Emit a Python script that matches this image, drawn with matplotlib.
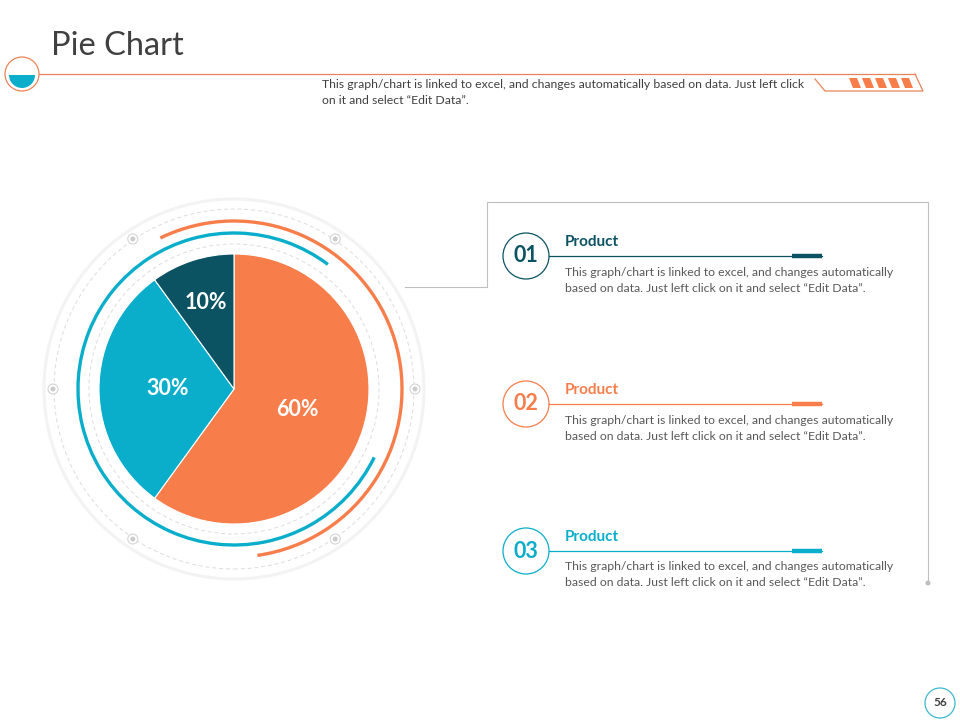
import numpy as np
import matplotlib.pyplot as plt
from matplotlib.patches import Circle, Arc, Wedge, Polygon

plt.rcParams['font.family'] = ['Lato', 'DejaVu Sans']

# data
shares = [60, 30, 10]
share_labels = ['60%', '30%', '10%']
slice_colors = ['#F77D4B', '#0AAECB', '#0B5363']
item_numbers = ['01', '02', '03']
item_titles = ['Product', 'Product', 'Product']
item_colors = ['#0B5363', '#F77D4B', '#0AAECB']
desc_text = ['This graph/chart is linked to excel, and changes automatically',
             'based on data. Just left click on it and select \u201cEdit Data\u201d.']
title = 'Pie Chart'
subtitle = ['This graph/chart is linked to excel, and changes automatically based on data. Just left click',
            'on it and select \u201cEdit Data\u201d.']
page_no = '56'

ORANGE = '#F77D4B'
TEAL = '#0AAECB'
GREY = '#595959'

H = 720
def Y(y):
    return H - y

fig = plt.figure(figsize=(9.6, 7.2), dpi=100)
ax = fig.add_axes([0, 0, 1, 1])

# header
ax.text(51, Y(46), title, fontsize=23.5, color='#404040', va='center', ha='left')
ax.plot([39, 915], [Y(74), Y(74)], color='#E8845A', lw=0.9)
ax.add_patch(Circle((22, Y(74)), 17, facecolor='white', edgecolor='#E8845A', lw=0.9, zorder=3))
ax.add_patch(Wedge((22, Y(75)), 13, 180, 360, facecolor=TEAL, edgecolor='none', zorder=4))
ax.plot([815, 825, 923, 915], [Y(79), Y(91), Y(91), Y(74)], color='#E8845A', lw=0.9)
for i in range(5):
    x0 = 849 + i * 13
    ax.add_patch(Polygon([(x0, Y(78)), (x0 + 8, Y(78)), (x0 + 12, Y(88)), (x0 + 4, Y(88))],
                         closed=True, facecolor=ORANGE, edgecolor='none'))
for k, line in enumerate(subtitle):
    ax.text(322, Y(85 + 16 * k), line, fontsize=8.8, color='#404040', va='center', ha='left')

# ring decorations around the pie
cx, cy = 234, Y(389)
ax.add_patch(Circle((cx, cy), 190, fill=False, edgecolor='#F3F3F3', lw=2.2))
ax.add_patch(Circle((cx, cy), 180, fill=False, edgecolor='#DCDCDC', lw=0.7, ls=(0, (4, 3))))
ax.add_patch(Circle((cx, cy), 145, fill=False, edgecolor='#DCDCDC', lw=0.7, ls=(0, (4, 3))))
for ang in [0, 56, 124, 180, 236, 304]:
    px = cx + 181 * np.cos(np.radians(ang))
    py = cy + 181 * np.sin(np.radians(ang))
    ax.add_patch(Circle((px, py), 5, facecolor='white', edgecolor='#D4D4D4', lw=0.8, zorder=3))
    ax.add_patch(Circle((px, py), 2.5, facecolor='#CCCCCC', edgecolor='none', zorder=4))
ax.add_patch(Arc((cx, cy), 2 * 156, 2 * 156, theta1=53, theta2=334, color=TEAL, lw=2.4))
ax.add_patch(Arc((cx, cy), 2 * 168, 2 * 168, theta1=-82, theta2=116, color=ORANGE, lw=2.4))

# pie
wedges, _ = ax.pie(shares, colors=slice_colors, startangle=90, counterclock=False,
                   center=(cx, cy), radius=135,
                   wedgeprops=dict(edgecolor='white', linewidth=0.8))
label_dist = [0.49, 0.49, 0.67]
for w, lab, d in zip(wedges, share_labels, label_dist):
    mid = np.radians((w.theta1 + w.theta2) / 2)
    ax.text(cx + d * 135 * np.cos(mid), cy + d * 135 * np.sin(mid), lab,
            fontsize=15.5, fontweight='bold', color='white', ha='center', va='center', zorder=5)

# connector frame
frame_x = [405, 487, 487, 928, 928]
frame_y = [Y(287), Y(287), Y(202), Y(202), Y(583)]
ax.plot(frame_x, frame_y, color='#BFBFBF', lw=0.8)
ax.add_patch(Circle((928, Y(583)), 2.5, facecolor='#BFBFBF', edgecolor='none'))

# product items
row_y = [256, 404, 551]
for num, ttl, col, ry in zip(item_numbers, item_titles, item_colors, row_y):
    ax.add_patch(Circle((526, Y(ry)), 23, facecolor='white', edgecolor=col, lw=0.9))
    ax.text(526, Y(ry), num, fontsize=15.5, fontweight='bold', color=col, ha='center', va='center')
    ax.plot([549, 822], [Y(ry), Y(ry)], color=col, lw=0.9)
    ax.plot([792, 822], [Y(ry), Y(ry)], color=col, lw=3.2, solid_capstyle='butt')
    ax.text(565, Y(ry - 14), ttl, fontsize=11, fontweight='bold', color=col, ha='left', va='center')
    for k, line in enumerate(desc_text):
        ax.text(565, Y(ry + 16 + 16 * k), line, fontsize=8.8, color=GREY, ha='left', va='center')

# page number
ax.add_patch(Circle((940, Y(703)), 15, facecolor='white', edgecolor='#3DB8CF', lw=0.9))
ax.text(940, Y(703), page_no, fontsize=8.5, fontweight='bold', color='#404040', ha='center', va='center')

ax.set_xlim(0, 960)
ax.set_ylim(0, 720)
ax.set_aspect('auto')
ax.axis('off')

fig.savefig('out.png', dpi=100, facecolor='white')
